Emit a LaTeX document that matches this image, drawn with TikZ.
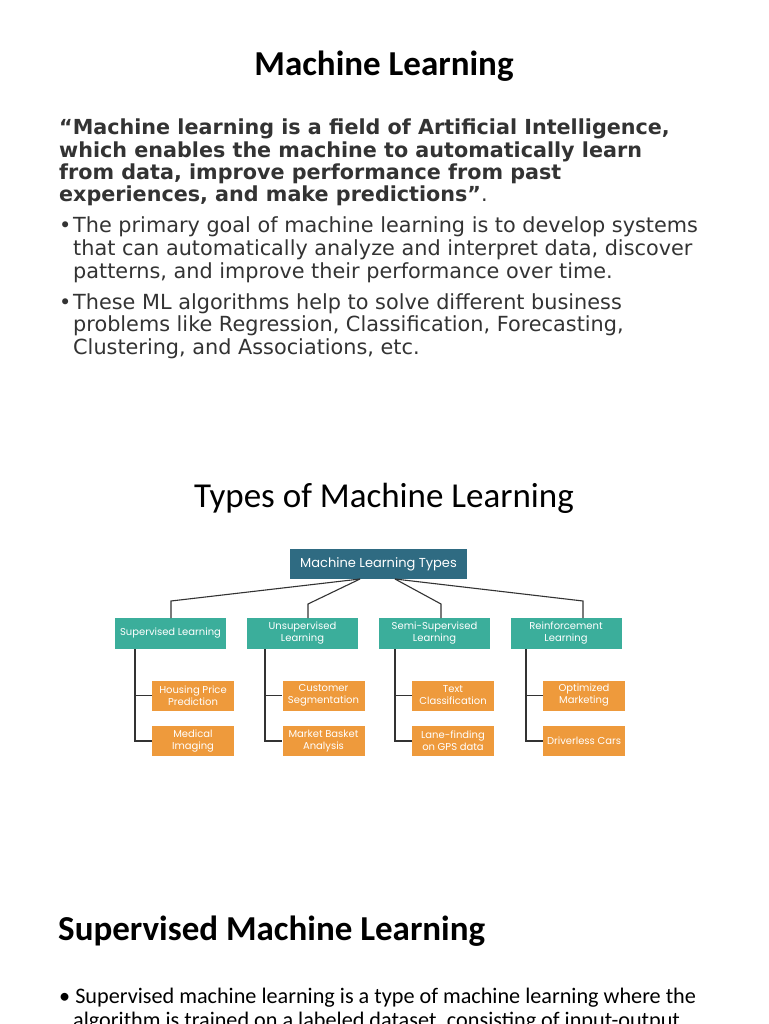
\documentclass[tikz,border=0pt]{standalone}
\usepackage{fontspec}
\setmainfont{DejaVu Sans}
\newfontfamily\carfont{Carlito}
\newfontfamily\popfont{Poppins}
\definecolor{rootc}{HTML}{2F6B82}
\definecolor{tealc}{HTML}{3BAE9B}
\definecolor{orc}{HTML}{EE9A3C}
\definecolor{linec}{HTML}{333333}
\definecolor{txt}{HTML}{333333}
\begin{document}
\begin{tikzpicture}[x=1pt,y=-1pt,
 body/.style={anchor=base west,inner sep=0,font=\fontsize{20.8}{24}\selectfont,text=txt},
 qt/.style={anchor=base west,inner sep=0,font=\fontsize{20.7}{24}\bfseries\selectfont,text=txt},
 root/.style={fill=rootc,text=white,minimum width=177,minimum height=30,inner sep=0,font=\popfont\fontsize{13}{14}\selectfont},
 cat/.style={fill=tealc,text=white,minimum width=111,minimum height=31,inner sep=0,align=center,font=\popfont\fontsize{10}{12}\selectfont},
 leaf/.style={fill=orc,text=white,minimum width=82,minimum height=30,inner sep=0,align=center,font=\popfont\fontsize{10}{12}\selectfont},
 conn/.style={draw=linec,line width=1.1}]
\useasboundingbox[fill=white] (0,0) rectangle (768,1024);
\node[font=\carfont\bfseries\fontsize{35}{40}\selectfont] (t1) at (384,66) {Machine Learning};
\node[qt] (q1) at (59,135) {“Machine learning is a field of Artificial Intelligence,};
\node[qt] (q2) at (59,158) {which enables the machine to automatically learn};
\node[qt] (q3) at (59,180) {from data, improve performance from past};
\node[qt] (q4) at (59,202) {experiences, and make predictions”\textmd{.}};
\node[body] (b1) at (59,233) {•};
\node[body] (b1a) at (73,233) {The primary goal of machine learning is to develop systems};
\node[body] (b1b) at (73,255) {that can automatically analyze and interpret data, discover};
\node[body] (b1c) at (73,278) {patterns, and improve their performance over time.};
\node[body] (b2) at (59,309) {•};
\node[body] (b2a) at (73,309) {These ML algorithms help to solve different business};
\node[body] (b2b) at (73,331) {problems like Regression, Classification, Forecasting,};
\node[body] (b2c) at (73,354) {Clustering, and Associations, etc.};
\node[font=\carfont\fontsize{35}{40}\selectfont] (t2) at (384,498) {Types of Machine Learning};
% diagram
\node[root] (r) at (378.5,564) {Machine Learning Types};
\node[cat] (c1) at (170.5,633.5) {Supervised Learning};
\node[cat] (c2) at (302.5,633.5) {Unsupervised\\Learning};
\node[cat] (c3) at (434.5,633.5) {Semi-Supervised\\Learning};
\node[cat] (c4) at (566,633.5) {Reinforcement\\Learning};
\node[leaf] (l1) at (193,695.5) {Housing Price\\Prediction};
\node[leaf] (l2) at (193,741) {Medical\\Imaging};
\node[leaf] (l3) at (323.5,695.5) {Customer\\Segmentation};
\node[leaf] (l4) at (323.5,741) {Market Basket\\Analysis};
\node[leaf] (l5) at (453,695.5) {Text\\Classification};
\node[leaf] (l6) at (453,741) {Lane-finding\\on GPS data};
\node[leaf] (l7) at (584,695.5) {Optimized\\Marketing};
\node[leaf] (l8) at (584,741) {Driverless Cars};
\coordinate (ra) at (360,579);
\coordinate (rb) at (395,579);
\draw[conn] (ra) -- (171,601) -- (171,618);
\draw[conn] (ra) -- (308,604) -- (308,618);
\draw[conn] (rb) -- (441,604) -- (441,618);
\draw[conn] (rb) -- (583,601) -- (583,618);
\foreach \c/\x/\a/\b in {c1/135/l1/l2, c2/265/l3/l4, c3/395/l5/l6, c4/526/l7/l8}{
 \draw[conn] (\x,649) |- (\b.west);
 \draw[conn] (\x,695.5) -- (\a.west);
}
\node[anchor=base west,inner sep=0,font=\carfont\bfseries\fontsize{35}{40}\selectfont] (t3) at (58,940) {Supervised Machine Learning};
\begin{scope}
\clip (0,0) rectangle (768,1024);
\node[anchor=base west,inner sep=0,font=\carfont\fontsize{22.2}{26}\selectfont] (s1) at (59,1003) {• Supervised machine learning is a type of machine learning where the};
\node[anchor=base west,inner sep=0,font=\carfont\fontsize{22.2}{26}\selectfont] (s2) at (73,1027) {algorithm is trained on a labeled dataset, consisting of input-output};
\end{scope}
\end{tikzpicture}
\end{document}
